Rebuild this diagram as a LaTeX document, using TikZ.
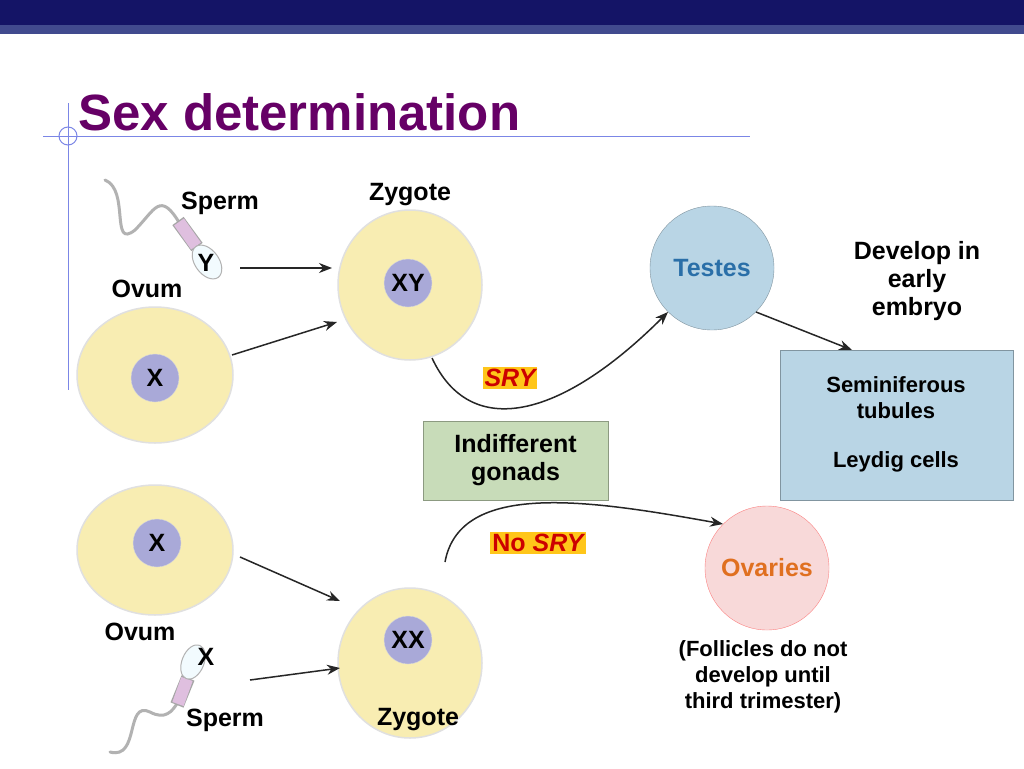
\documentclass[tikz,border=0pt]{standalone}
\usepackage{fontspec}
\setmainfont{Liberation Sans}
\usetikzlibrary{arrows.meta}
\begin{document}
\begin{tikzpicture}[x=1pt,y=-1pt,
 lbl/.style={font=\fontsize{25}{28}\selectfont\bfseries,align=center,inner sep=1pt},
 small/.style={font=\fontsize{22}{26}\selectfont\bfseries,align=center,inner sep=1pt},
 cell/.style={draw=black!12,fill=cellyel,line width=1.5pt},
 nuc/.style={draw=black!15,fill=nucblue,circle,minimum size=48pt,inner sep=0pt,font=\fontsize{25}{28}\selectfont\bfseries},
 arr/.style={-{Stealth[length=13pt,width=10pt]},line width=1.5pt,black!85},
 tag/.style={fill=tagyel,text=tagred,font=\fontsize{25}{28}\selectfont\bfseries,inner sep=2pt}]
\definecolor{cellyel}{HTML}{F8EDB2}
\definecolor{nucblue}{HTML}{A9A9D8}
\definecolor{tagyel}{HTML}{FFC61A}
\definecolor{tagred}{HTML}{CC0000}
\definecolor{guide}{HTML}{7B86E6}
\definecolor{ttl}{HTML}{660066}
\definecolor{lblue}{HTML}{B9D5E5}
\definecolor{lgreen}{HTML}{C8DCB9}
\definecolor{pinkc}{HTML}{F8D9D9}
\definecolor{navy}{HTML}{141466}
\definecolor{navyl}{HTML}{414A8E}
\definecolor{testc}{HTML}{2A6FA8}
\definecolor{ovc}{HTML}{E07020}
\useasboundingbox (0,0) rectangle (1024,768);
\fill[white] (0,0) rectangle (1024,768);
\fill[navy] (0,0) rectangle (1024,25);
\fill[navyl] (0,25) rectangle (1024,34);
% guides
\draw[guide,line width=1pt] (43,136) -- (750,136) (68,103) -- (68,390);
\draw[guide,line width=1pt] (68,136) circle (9);
\node[anchor=base west,text=ttl,font=\fontsize{51}{54}\selectfont\bfseries,inner sep=0] (title) at (78,130) {Sex determination};
% top row
\draw[cell] (155,375) ellipse (78 and 68);
\node[nuc] (n1) at (155,378) {X};
\draw[cell] (410,285) ellipse (72 and 75);
\node[nuc] (n2) at (408,283) {XY};
\node[lbl] (zt) at (410,195) {Zygote};
% sperm top
\draw[black!30,line width=3pt,line cap=round] (105,180) .. controls (130,190) and (110,250) .. (135,230) .. controls (155,210) and (160,190) .. (180,224);
\draw[black!35,line width=14pt] (178,221) -- (197,247);
\draw[violet!25,line width=12pt] (179,222) -- (196,246);
\draw[black!30,fill=cyan!5,line width=1pt,rotate around={-54:(207,262)}] (207,262) ellipse (19 and 12);
\node[lbl] (sp1) at (220,203) {Sperm};
\node[lbl] (y1) at (206,263) {Y};
\node[lbl] (ov1) at (147,289) {Ovum};
\coordinate (a1s) at (240,268); \coordinate (a1e) at (332,268);
\draw[arr] (a1s) -- (a1e);
\coordinate (a2s) at (232,355); \coordinate (a2e) at (337,322);
\draw[arr] (a2s) -- (a2e);
% bottom row
\draw[cell] (155,550) ellipse (78 and 65);
\node[nuc] (n3) at (157,543) {X};
\draw[cell] (410,663) ellipse (72 and 75);
\node[nuc] (n4) at (408,640) {XX};
\draw[black!30,line width=3pt,line cap=round] (110,752) .. controls (140,760) and (125,700) .. (150,712) .. controls (165,720) and (172,712) .. (178,702);
\draw[black!35,line width=14pt] (177,705) -- (188,678);
\draw[violet!25,line width=12pt] (178,704) -- (187,679);
\draw[black!30,fill=cyan!5,line width=1pt,rotate around={68:(193,662)}] (193,662) ellipse (18 and 11);
\node[lbl] (ov2) at (140,632) {Ovum};
\node[lbl] (x2) at (206,657) {X};
\node[lbl] (sp2) at (225,720) {Sperm};
\node[lbl] (zb) at (418,720) {Zygote};
\coordinate (a3s) at (240,557); \coordinate (a3e) at (340,601);
\draw[arr] (a3s) -- (a3e);
\coordinate (a4s) at (250,680); \coordinate (a4e) at (340,668);
\draw[arr] (a4s) -- (a4e);
% middle
\node[draw=lgreen!70!black,fill=lgreen,minimum width=185pt,minimum height=79pt,lbl] (ig) at (515.5,460.5) {Indifferent\\gonads};
\node[circle,draw=lblue!70!black,fill=lblue,minimum size=124pt,font=\fontsize{25}{28}\selectfont\bfseries,text=testc] (te) at (712,268) {Testes};
\node[circle,draw=pinkc!60!red,fill=pinkc,minimum size=124pt,font=\fontsize{25}{28}\selectfont\bfseries,text=ovc] (ov) at (767,568) {Ovaries};
\coordinate (c1) at (432,358);
\draw[arr] (c1) .. controls (470,440) and (560,420) .. (te.south west);
\coordinate (c2) at (445,562);
\draw[arr] (c2) .. controls (460,480) and (590,500) .. (ov.north west);
\node[tag] (sry) at (510,378) {\itshape SRY};
\node[tag] (nosry) at (538,543) {No \itshape SRY};
\node[lbl] (dev) at (917,281) {Develop in\\early\\embryo};
\node[draw=lblue!70!black,fill=lblue,minimum width=233pt,minimum height=150pt] (sem) at (896.5,425) {};
\node[small] (st) at (896,398) {Seminiferous\\tubules};
\node[small] (ley) at (896,462) {Leydig cells};
\draw[arr] (te.south east) -- (852,350);
\node[small] (fol) at (763,677) {(Follicles do not\\develop until\\third trimester)};
\end{tikzpicture}
\end{document}
